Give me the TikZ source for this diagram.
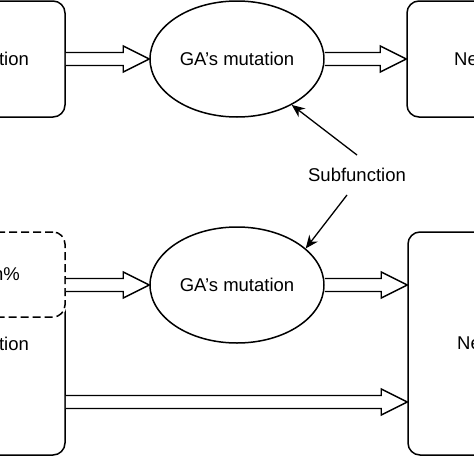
\documentclass[tikz,border=0pt]{standalone}
\usepackage{fontspec}
\setmainfont{Liberation Sans}
\usepackage{tikz}
\usetikzlibrary{shapes}
\usetikzlibrary{arrows.meta}
\usetikzlibrary{calc}
\tikzset{
	main node/.style={ellipse,draw,line width=1.5pt,fill=white,inner sep=0pt,
		minimum width=174pt,minimum height=116pt,font=\fontsize{18.5}{22}\selectfont},
	box node/.style={draw,line width=1.5pt,rounded corners=12pt,fill=white,
		font=\fontsize{18.5}{22}\selectfont},
	dash node/.style={draw,line width=1.5pt,rounded corners=12pt,fill=white,
		dash pattern=on 8pt off 4pt,preaction={draw=white,solid,line width=3pt},
		font=\fontsize{18.5}{22}\selectfont},
	label node/.style={inner sep=13pt,font=\fontsize{18.5}{22}\selectfont},
	block line/.style={-,draw,line width=1.4pt,fill=white,line join=miter}
}
% hollow block arrow: #1 start, #2 tip (drawn at the height of #1)
\newcommand{\blockarrow}[2]{%
	\path[block line] let \p1=(#1), \p2=(#2) in
		(\x1,\y1+6.5pt) -- (\x2-26pt,\y1+6.5pt) -- (\x2-26pt,\y1+13pt) -- (\x2,\y1)
		-- (\x2-26pt,\y1-13pt) -- (\x2-26pt,\y1-6.5pt) -- (\x1,\y1-6.5pt);}

\begin{document}
\begin{tikzpicture}[x=1pt,y=-1pt,->,>={Stealth[length=13pt,width=11pt]}]
	\useasboundingbox (0,0) rectangle (474,474);
	\clip (0,0) rectangle (474,474);
	% top row
	\node [box node,minimum width=102pt,minimum height=116pt] (1) at (14,59) {tion};
	\node [main node] (2) at (237,59) {GA’s mutation};
	\node [box node,minimum width=118pt,minimum height=116pt] (3) at (466,59) {Ne};
	% bottom row
	\node [box node,minimum width=102pt,minimum height=223pt] (4) at (14,343.5) {tion};
	\node [dash node,minimum width=117pt,minimum height=85pt] (5) at (6.5,274.5) {n\%};
	\node [main node] (6) at (237,285) {GA’s mutation};
	\node [box node,minimum width=122pt,minimum height=223pt] (7) at (469,343.5) {Ne};
	\node [label node] (8) at (357,175) {Subfunction};
	\coordinate (9) at (237,402);
	% connectors
	\blockarrow{1.east}{2.west}
	\blockarrow{2.east}{3.west}
	\blockarrow{4.east |- 6.west}{6.west}
	\blockarrow{6.east}{7.west |- 6.east}
	\blockarrow{4.east |- 9}{7.west |- 9}
	\draw [line width=1.3pt] (8.north) -- (2.-40);
	\draw [line width=1.3pt] ([xshift=-10pt]8.south) -- (6.28);
\end{tikzpicture}
\end{document}
